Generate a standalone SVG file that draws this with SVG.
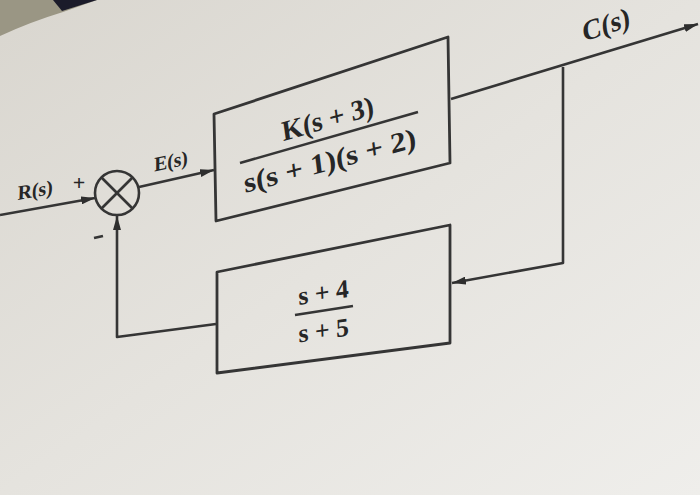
<svg xmlns="http://www.w3.org/2000/svg" width="700" height="495" viewBox="0 0 700 495">
<defs>
<linearGradient id="bg" x1="0" y1="0" x2="1" y2="1">
<stop offset="0" stop-color="#d9d6cf"/>
<stop offset="0.5" stop-color="#e5e3de"/>
<stop offset="1" stop-color="#efeeeb"/>
</linearGradient>
<marker id="arr" viewBox="0 0 14 8" refX="14" refY="4" markerWidth="14" markerHeight="8" markerUnits="userSpaceOnUse" orient="auto">
<path d="M0,0 L14,4 L0,8 z" fill="#2e2e2e"/>
</marker>
<style>
.ln{fill:none;stroke:#353535;stroke-width:2.6;stroke-linejoin:round}
.blk{fill:none;stroke:#353535;stroke-width:2.8;stroke-linejoin:round}
.tx{font-family:"Liberation Serif","DejaVu Serif",serif;fill:#262626;font-weight:bold}
</style>
</defs>
<rect width="700" height="495" fill="url(#bg)"/>
<path d="M0,0 L97,0 L63,12 Q30,22 0,36 z" fill="#9a9684"/>
<path d="M53,0 L97,0 L62,11 z" fill="#1b1b2a"/>

<g id="connectors">
<polyline class="ln" points="0,215 95,198" marker-end="url(#arr)"/>
<polyline class="ln" points="139,187 214,170" marker-end="url(#arr)"/>
<polyline class="ln" points="451,99 698,24" marker-end="url(#arr)"/>
<polyline class="ln" points="563,67 563,263 452,283" marker-end="url(#arr)"/>
<polyline class="ln" points="216,324 117,337 117,216" marker-end="url(#arr)"/>
</g>

<g id="sum">
<circle cx="117" cy="193" r="22" fill="none" stroke="#353535" stroke-width="2.6"/>
<line class="ln" x1="101.5" y1="177.5" x2="132.5" y2="208.5"/>
<line class="ln" x1="132.5" y1="177.5" x2="101.5" y2="208.5"/>
<text class="tx" x="79" y="190" font-size="22" text-anchor="middle">+</text>
<line class="ln" x1="94" y1="238" x2="103" y2="236"/>
</g>

<g id="forward">
<polygon class="blk" points="214,114 448,37 450,163 216,221"/>
<text class="tx" transform="translate(329,128) rotate(-16) skewX(-8)" font-size="28" text-anchor="middle">K(s + 3)</text>
<line class="ln" x1="240" y1="163" x2="418" y2="112"/>
<text class="tx" transform="translate(331,170) rotate(-15) skewX(-8)" font-size="28" text-anchor="middle" textLength="178" lengthAdjust="spacingAndGlyphs">s(s + 1)(s + 2)</text>
</g>

<g id="feedback">
<polygon class="blk" points="217,272 450,225 450,343 217,373"/>
<text class="tx" transform="translate(324,301) rotate(-9) skewX(-6)" font-size="26" text-anchor="middle">s + 4</text>
<line class="ln" x1="295" y1="315" x2="353" y2="306"/>
<text class="tx" transform="translate(324,339) rotate(-8) skewX(-6)" font-size="26" text-anchor="middle">s + 5</text>
</g>

<g id="labels">
<text class="tx" transform="translate(35,197) rotate(-10) skewX(-12)" font-size="20" text-anchor="middle">R(s)</text>
<text class="tx" transform="translate(171,168) rotate(-12) skewX(-12)" font-size="20" text-anchor="middle">E(s)</text>
<text class="tx" transform="translate(607,34) rotate(-18) skewX(-12)" font-size="28" text-anchor="middle">C(s)</text>
</g>
</svg>
